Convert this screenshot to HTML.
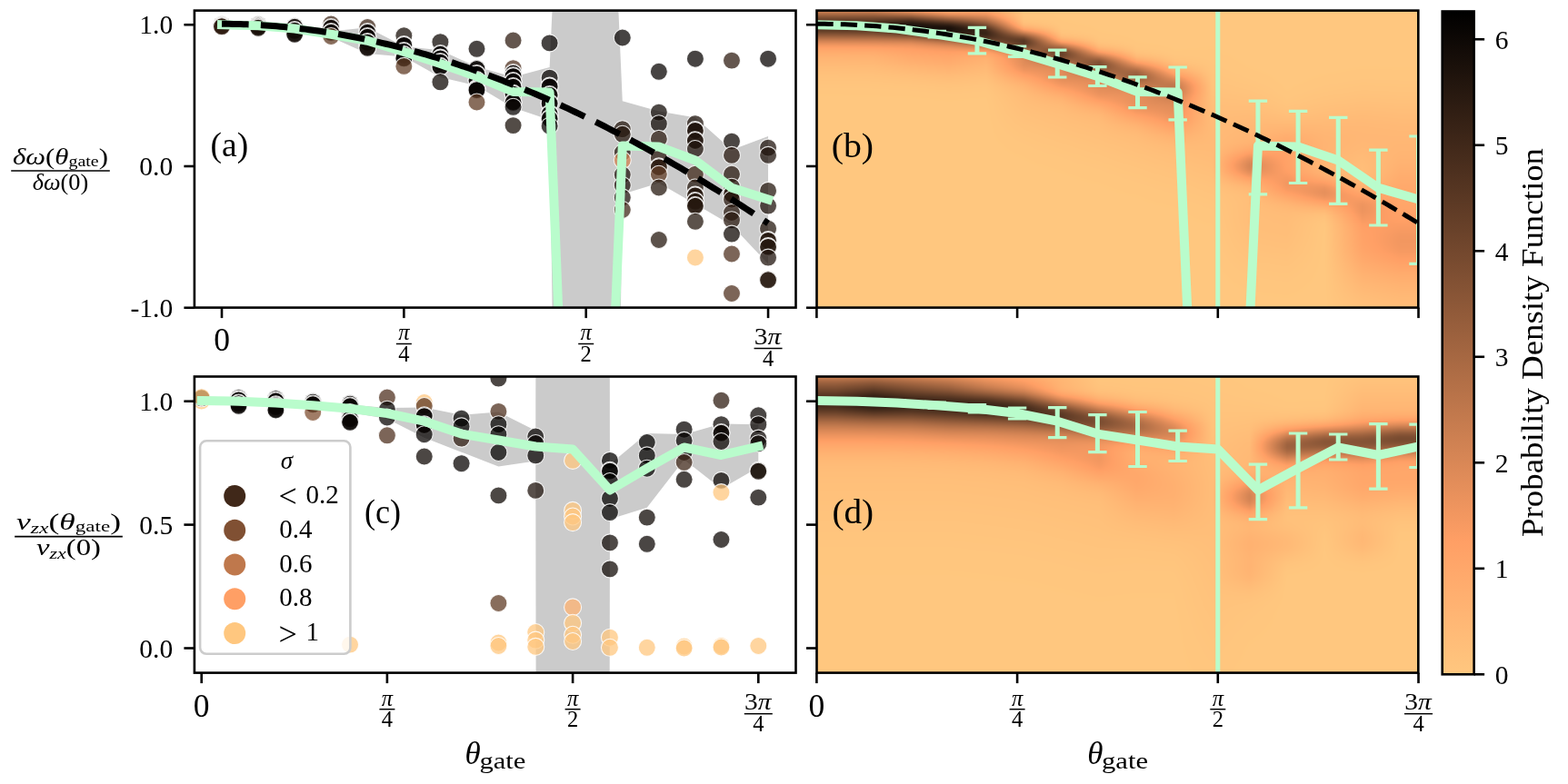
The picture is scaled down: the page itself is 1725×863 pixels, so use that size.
<!DOCTYPE html><html><head><meta charset="utf-8"><title>Figure</title><style>
html,body{margin:0;padding:0;background:#fff;width:1725px;height:863px;overflow:hidden}
#wrap{position:relative;width:1725px;height:863px}
canvas{position:absolute;background:#ffc77f}
svg{position:absolute;left:0;top:0}
text{font-family:"Liberation Serif","DejaVu Serif",serif;fill:#000}
.it{font-style:italic}
</style></head><body><div id="wrap">
<canvas id="hb" width="662" height="327" style="left:898.5px;top:11.6px;width:662px;height:327px"></canvas>
<canvas id="hd" width="662" height="326" style="left:898.5px;top:414.5px;width:662px;height:326px"></canvas>
<svg width="1725" height="863" viewBox="0 0 1725 863">
<defs>
<clipPath id="ca"><rect x="213.9" y="11.6" width="661.6" height="327"/></clipPath>
<clipPath id="cb"><rect x="898.5" y="11.6" width="661.8" height="327"/></clipPath>
<clipPath id="cc"><rect x="213.9" y="414.5" width="661.6" height="326.1"/></clipPath>
<clipPath id="cd"><rect x="898.5" y="414.5" width="661.8" height="326.1"/></clipPath>
<linearGradient id="cbg" x1="0" y1="1" x2="0" y2="0"><stop offset="0" stop-color="#ffc77f"/><stop offset="0.2" stop-color="#ff9f65"/><stop offset="1" stop-color="#000"/></linearGradient>
</defs>
<polygon clip-path="url(#ca)" fill="#cbcbcb" points="244,25.8 284.07,26.5 324.14,29 364.21,34.4 404.28,30.3 444.35,51 484.42,55.2 524.49,73.6 564.56,84.8 604.63,74 644.7,-800 684.77,111.2 724.84,122.4 764.91,129.3 804.98,165.1 845.05,150 845.05,290.4 804.98,248 764.91,224.4 724.84,201.5 684.77,213.8 644.7,3000 604.63,131.9 564.56,118.6 524.49,94.5 484.42,85 444.35,62.5 404.28,58.9 364.21,41 324.14,34 284.07,30 244,28.8"/>
<g clip-path="url(#ca)">
<circle cx="244" cy="27" r="9.5" fill="#301e13" fill-opacity="0.75" stroke="#fff" stroke-opacity="0.85" stroke-width="1.1"/>
<circle cx="244" cy="27.8" r="9.5" fill="#301e13" fill-opacity="0.75" stroke="#fff" stroke-opacity="0.85" stroke-width="1.1"/>
<circle cx="244" cy="28" r="9.5" fill="#301e13" fill-opacity="0.75" stroke="#fff" stroke-opacity="0.85" stroke-width="1.1"/>
<circle cx="244" cy="28.8" r="9.5" fill="#301e13" fill-opacity="0.75" stroke="#fff" stroke-opacity="0.85" stroke-width="1.1"/>
<circle cx="244" cy="28.5" r="9.5" fill="#301e13" fill-opacity="0.75" stroke="#fff" stroke-opacity="0.85" stroke-width="1.1"/>
<circle cx="244" cy="29.3" r="9.5" fill="#301e13" fill-opacity="0.75" stroke="#fff" stroke-opacity="0.85" stroke-width="1.1"/>
<circle cx="284.07" cy="27" r="9.5" fill="#1a100a" fill-opacity="0.75" stroke="#fff" stroke-opacity="0.85" stroke-width="1.1"/>
<circle cx="284.07" cy="27.8" r="9.5" fill="#1a100a" fill-opacity="0.75" stroke="#fff" stroke-opacity="0.85" stroke-width="1.1"/>
<circle cx="284.07" cy="28.5" r="9.5" fill="#1a100a" fill-opacity="0.75" stroke="#fff" stroke-opacity="0.85" stroke-width="1.1"/>
<circle cx="284.07" cy="29.3" r="9.5" fill="#1a100a" fill-opacity="0.75" stroke="#fff" stroke-opacity="0.85" stroke-width="1.1"/>
<circle cx="284.07" cy="30" r="9.5" fill="#1a100a" fill-opacity="0.75" stroke="#fff" stroke-opacity="0.85" stroke-width="1.1"/>
<circle cx="284.07" cy="30.8" r="9.5" fill="#1a100a" fill-opacity="0.75" stroke="#fff" stroke-opacity="0.85" stroke-width="1.1"/>
<circle cx="324.14" cy="29" r="9.5" fill="#100a06" fill-opacity="0.75" stroke="#fff" stroke-opacity="0.85" stroke-width="1.1"/>
<circle cx="324.14" cy="29.8" r="9.5" fill="#100a06" fill-opacity="0.75" stroke="#fff" stroke-opacity="0.85" stroke-width="1.1"/>
<circle cx="324.14" cy="33" r="9.5" fill="#100a06" fill-opacity="0.75" stroke="#fff" stroke-opacity="0.85" stroke-width="1.1"/>
<circle cx="324.14" cy="33.8" r="9.5" fill="#100a06" fill-opacity="0.75" stroke="#fff" stroke-opacity="0.85" stroke-width="1.1"/>
<circle cx="324.14" cy="37" r="9.5" fill="#100a06" fill-opacity="0.75" stroke="#fff" stroke-opacity="0.85" stroke-width="1.1"/>
<circle cx="324.14" cy="37.8" r="9.5" fill="#100a06" fill-opacity="0.75" stroke="#fff" stroke-opacity="0.85" stroke-width="1.1"/>
<circle cx="364.21" cy="26.5" r="9.5" fill="#402819" fill-opacity="0.75" stroke="#fff" stroke-opacity="0.85" stroke-width="1.1"/>
<circle cx="364.21" cy="30" r="9.5" fill="#100a06" fill-opacity="0.75" stroke="#fff" stroke-opacity="0.85" stroke-width="1.1"/>
<circle cx="364.21" cy="30.8" r="9.5" fill="#100a06" fill-opacity="0.75" stroke="#fff" stroke-opacity="0.85" stroke-width="1.1"/>
<circle cx="364.21" cy="35" r="9.5" fill="#100a06" fill-opacity="0.75" stroke="#fff" stroke-opacity="0.85" stroke-width="1.1"/>
<circle cx="364.21" cy="35.8" r="9.5" fill="#100a06" fill-opacity="0.75" stroke="#fff" stroke-opacity="0.85" stroke-width="1.1"/>
<circle cx="364.21" cy="40" r="9.5" fill="#603c26" fill-opacity="0.75" stroke="#fff" stroke-opacity="0.85" stroke-width="1.1"/>
<circle cx="404.28" cy="30" r="9.5" fill="#402819" fill-opacity="0.75" stroke="#fff" stroke-opacity="0.85" stroke-width="1.1"/>
<circle cx="404.28" cy="35" r="9.5" fill="#0d0805" fill-opacity="0.75" stroke="#fff" stroke-opacity="0.85" stroke-width="1.1"/>
<circle cx="404.28" cy="35.8" r="9.5" fill="#0d0805" fill-opacity="0.75" stroke="#fff" stroke-opacity="0.85" stroke-width="1.1"/>
<circle cx="404.28" cy="40" r="9.5" fill="#0d0805" fill-opacity="0.75" stroke="#fff" stroke-opacity="0.85" stroke-width="1.1"/>
<circle cx="404.28" cy="40.8" r="9.5" fill="#0d0805" fill-opacity="0.75" stroke="#fff" stroke-opacity="0.85" stroke-width="1.1"/>
<circle cx="404.28" cy="46" r="9.5" fill="#0d0805" fill-opacity="0.75" stroke="#fff" stroke-opacity="0.85" stroke-width="1.1"/>
<circle cx="404.28" cy="46.8" r="9.5" fill="#0d0805" fill-opacity="0.75" stroke="#fff" stroke-opacity="0.85" stroke-width="1.1"/>
<circle cx="404.28" cy="52" r="9.5" fill="#100a06" fill-opacity="0.75" stroke="#fff" stroke-opacity="0.85" stroke-width="1.1"/>
<circle cx="404.28" cy="52.8" r="9.5" fill="#100a06" fill-opacity="0.75" stroke="#fff" stroke-opacity="0.85" stroke-width="1.1"/>
<circle cx="444.35" cy="39.3" r="9.5" fill="#1a100a" fill-opacity="0.75" stroke="#fff" stroke-opacity="0.85" stroke-width="1.1"/>
<circle cx="444.35" cy="49.1" r="9.5" fill="#0a0604" fill-opacity="0.75" stroke="#fff" stroke-opacity="0.85" stroke-width="1.1"/>
<circle cx="444.35" cy="49.9" r="9.5" fill="#0a0604" fill-opacity="0.75" stroke="#fff" stroke-opacity="0.85" stroke-width="1.1"/>
<circle cx="444.35" cy="56" r="9.5" fill="#0a0604" fill-opacity="0.75" stroke="#fff" stroke-opacity="0.85" stroke-width="1.1"/>
<circle cx="444.35" cy="56.8" r="9.5" fill="#0a0604" fill-opacity="0.75" stroke="#fff" stroke-opacity="0.85" stroke-width="1.1"/>
<circle cx="444.35" cy="60" r="9.5" fill="#0a0604" fill-opacity="0.75" stroke="#fff" stroke-opacity="0.85" stroke-width="1.1"/>
<circle cx="444.35" cy="60.8" r="9.5" fill="#0a0604" fill-opacity="0.75" stroke="#fff" stroke-opacity="0.85" stroke-width="1.1"/>
<circle cx="444.35" cy="63.6" r="9.5" fill="#0a0604" fill-opacity="0.75" stroke="#fff" stroke-opacity="0.85" stroke-width="1.1"/>
<circle cx="444.35" cy="64.4" r="9.5" fill="#0a0604" fill-opacity="0.75" stroke="#fff" stroke-opacity="0.85" stroke-width="1.1"/>
<circle cx="444.35" cy="72.9" r="9.5" fill="#603c26" fill-opacity="0.75" stroke="#fff" stroke-opacity="0.85" stroke-width="1.1"/>
<circle cx="484.42" cy="46.2" r="9.5" fill="#100a06" fill-opacity="0.75" stroke="#fff" stroke-opacity="0.85" stroke-width="1.1"/>
<circle cx="484.42" cy="59" r="9.5" fill="#0a0604" fill-opacity="0.75" stroke="#fff" stroke-opacity="0.85" stroke-width="1.1"/>
<circle cx="484.42" cy="59.8" r="9.5" fill="#0a0604" fill-opacity="0.75" stroke="#fff" stroke-opacity="0.85" stroke-width="1.1"/>
<circle cx="484.42" cy="63.6" r="9.5" fill="#0a0604" fill-opacity="0.75" stroke="#fff" stroke-opacity="0.85" stroke-width="1.1"/>
<circle cx="484.42" cy="64.4" r="9.5" fill="#0a0604" fill-opacity="0.75" stroke="#fff" stroke-opacity="0.85" stroke-width="1.1"/>
<circle cx="484.42" cy="68" r="9.5" fill="#0a0604" fill-opacity="0.75" stroke="#fff" stroke-opacity="0.85" stroke-width="1.1"/>
<circle cx="484.42" cy="68.8" r="9.5" fill="#0a0604" fill-opacity="0.75" stroke="#fff" stroke-opacity="0.85" stroke-width="1.1"/>
<circle cx="484.42" cy="72.9" r="9.5" fill="#0a0604" fill-opacity="0.75" stroke="#fff" stroke-opacity="0.85" stroke-width="1.1"/>
<circle cx="484.42" cy="73.7" r="9.5" fill="#0a0604" fill-opacity="0.75" stroke="#fff" stroke-opacity="0.85" stroke-width="1.1"/>
<circle cx="484.42" cy="90.3" r="9.5" fill="#100a06" fill-opacity="0.75" stroke="#fff" stroke-opacity="0.85" stroke-width="1.1"/>
<circle cx="524.49" cy="53.8" r="9.5" fill="#0d0805" fill-opacity="0.75" stroke="#fff" stroke-opacity="0.85" stroke-width="1.1"/>
<circle cx="524.49" cy="75.2" r="9.5" fill="#0a0604" fill-opacity="0.75" stroke="#fff" stroke-opacity="0.85" stroke-width="1.1"/>
<circle cx="524.49" cy="76" r="9.5" fill="#0a0604" fill-opacity="0.75" stroke="#fff" stroke-opacity="0.85" stroke-width="1.1"/>
<circle cx="524.49" cy="81" r="9.5" fill="#0a0604" fill-opacity="0.75" stroke="#fff" stroke-opacity="0.85" stroke-width="1.1"/>
<circle cx="524.49" cy="81.8" r="9.5" fill="#0a0604" fill-opacity="0.75" stroke="#fff" stroke-opacity="0.85" stroke-width="1.1"/>
<circle cx="524.49" cy="88" r="9.5" fill="#0a0604" fill-opacity="0.75" stroke="#fff" stroke-opacity="0.85" stroke-width="1.1"/>
<circle cx="524.49" cy="88.8" r="9.5" fill="#0a0604" fill-opacity="0.75" stroke="#fff" stroke-opacity="0.85" stroke-width="1.1"/>
<circle cx="524.49" cy="97" r="9.5" fill="#0a0604" fill-opacity="0.75" stroke="#fff" stroke-opacity="0.85" stroke-width="1.1"/>
<circle cx="524.49" cy="97.8" r="9.5" fill="#0a0604" fill-opacity="0.75" stroke="#fff" stroke-opacity="0.85" stroke-width="1.1"/>
<circle cx="524.49" cy="98.4" r="9.5" fill="#0a0604" fill-opacity="0.75" stroke="#fff" stroke-opacity="0.85" stroke-width="1.1"/>
<circle cx="524.49" cy="99.2" r="9.5" fill="#0a0604" fill-opacity="0.75" stroke="#fff" stroke-opacity="0.85" stroke-width="1.1"/>
<circle cx="524.49" cy="112.5" r="9.5" fill="#603c26" fill-opacity="0.75" stroke="#fff" stroke-opacity="0.85" stroke-width="1.1"/>
<circle cx="564.56" cy="44.5" r="9.5" fill="#301e13" fill-opacity="0.75" stroke="#fff" stroke-opacity="0.85" stroke-width="1.1"/>
<circle cx="564.56" cy="75.2" r="9.5" fill="#503220" fill-opacity="0.75" stroke="#fff" stroke-opacity="0.85" stroke-width="1.1"/>
<circle cx="564.56" cy="80" r="9.5" fill="#0a0604" fill-opacity="0.75" stroke="#fff" stroke-opacity="0.85" stroke-width="1.1"/>
<circle cx="564.56" cy="80.8" r="9.5" fill="#0a0604" fill-opacity="0.75" stroke="#fff" stroke-opacity="0.85" stroke-width="1.1"/>
<circle cx="564.56" cy="83.3" r="9.5" fill="#0a0604" fill-opacity="0.75" stroke="#fff" stroke-opacity="0.85" stroke-width="1.1"/>
<circle cx="564.56" cy="84.1" r="9.5" fill="#0a0604" fill-opacity="0.75" stroke="#fff" stroke-opacity="0.85" stroke-width="1.1"/>
<circle cx="564.56" cy="89" r="9.5" fill="#0a0604" fill-opacity="0.75" stroke="#fff" stroke-opacity="0.85" stroke-width="1.1"/>
<circle cx="564.56" cy="89.8" r="9.5" fill="#0a0604" fill-opacity="0.75" stroke="#fff" stroke-opacity="0.85" stroke-width="1.1"/>
<circle cx="564.56" cy="95" r="9.5" fill="#0a0604" fill-opacity="0.75" stroke="#fff" stroke-opacity="0.85" stroke-width="1.1"/>
<circle cx="564.56" cy="95.8" r="9.5" fill="#0a0604" fill-opacity="0.75" stroke="#fff" stroke-opacity="0.85" stroke-width="1.1"/>
<circle cx="564.56" cy="102.8" r="9.5" fill="#0a0604" fill-opacity="0.75" stroke="#fff" stroke-opacity="0.85" stroke-width="1.1"/>
<circle cx="564.56" cy="103.6" r="9.5" fill="#0a0604" fill-opacity="0.75" stroke="#fff" stroke-opacity="0.85" stroke-width="1.1"/>
<circle cx="564.56" cy="112" r="9.5" fill="#0a0604" fill-opacity="0.75" stroke="#fff" stroke-opacity="0.85" stroke-width="1.1"/>
<circle cx="564.56" cy="112.8" r="9.5" fill="#0a0604" fill-opacity="0.75" stroke="#fff" stroke-opacity="0.85" stroke-width="1.1"/>
<circle cx="564.56" cy="117.8" r="9.5" fill="#0a0604" fill-opacity="0.75" stroke="#fff" stroke-opacity="0.85" stroke-width="1.1"/>
<circle cx="564.56" cy="138.1" r="9.5" fill="#1a100a" fill-opacity="0.75" stroke="#fff" stroke-opacity="0.85" stroke-width="1.1"/>
<circle cx="604.63" cy="47.4" r="9.5" fill="#0a0604" fill-opacity="0.75" stroke="#fff" stroke-opacity="0.85" stroke-width="1.1"/>
<circle cx="604.63" cy="85.7" r="9.5" fill="#0a0604" fill-opacity="0.75" stroke="#fff" stroke-opacity="0.85" stroke-width="1.1"/>
<circle cx="604.63" cy="94.6" r="9.5" fill="#0a0604" fill-opacity="0.75" stroke="#fff" stroke-opacity="0.85" stroke-width="1.1"/>
<circle cx="604.63" cy="95.4" r="9.5" fill="#0a0604" fill-opacity="0.75" stroke="#fff" stroke-opacity="0.85" stroke-width="1.1"/>
<circle cx="604.63" cy="104" r="9.5" fill="#0a0604" fill-opacity="0.75" stroke="#fff" stroke-opacity="0.85" stroke-width="1.1"/>
<circle cx="604.63" cy="104.8" r="9.5" fill="#0a0604" fill-opacity="0.75" stroke="#fff" stroke-opacity="0.85" stroke-width="1.1"/>
<circle cx="604.63" cy="113.2" r="9.5" fill="#0a0604" fill-opacity="0.75" stroke="#fff" stroke-opacity="0.85" stroke-width="1.1"/>
<circle cx="604.63" cy="114" r="9.5" fill="#0a0604" fill-opacity="0.75" stroke="#fff" stroke-opacity="0.85" stroke-width="1.1"/>
<circle cx="604.63" cy="124.8" r="9.5" fill="#0a0604" fill-opacity="0.75" stroke="#fff" stroke-opacity="0.85" stroke-width="1.1"/>
<circle cx="604.63" cy="125.6" r="9.5" fill="#0a0604" fill-opacity="0.75" stroke="#fff" stroke-opacity="0.85" stroke-width="1.1"/>
<circle cx="604.63" cy="130" r="9.5" fill="#0a0604" fill-opacity="0.75" stroke="#fff" stroke-opacity="0.85" stroke-width="1.1"/>
<circle cx="604.63" cy="130.8" r="9.5" fill="#0a0604" fill-opacity="0.75" stroke="#fff" stroke-opacity="0.85" stroke-width="1.1"/>
<circle cx="604.63" cy="138.7" r="9.5" fill="#0a0604" fill-opacity="0.75" stroke="#fff" stroke-opacity="0.85" stroke-width="1.1"/>
<circle cx="684.77" cy="41.5" r="9.5" fill="#0a0604" fill-opacity="0.75" stroke="#fff" stroke-opacity="0.85" stroke-width="1.1"/>
<circle cx="684.77" cy="142.2" r="9.5" fill="#26180f" fill-opacity="0.75" stroke="#fff" stroke-opacity="0.85" stroke-width="1.1"/>
<circle cx="684.77" cy="147.8" r="9.5" fill="#26180f" fill-opacity="0.75" stroke="#fff" stroke-opacity="0.85" stroke-width="1.1"/>
<circle cx="684.77" cy="168" r="9.5" fill="#26180f" fill-opacity="0.75" stroke="#fff" stroke-opacity="0.85" stroke-width="1.1"/>
<circle cx="684.77" cy="176.3" r="9.5" fill="#cf8152" fill-opacity="0.75" stroke="#fff" stroke-opacity="0.85" stroke-width="1.1"/>
<circle cx="684.77" cy="192.3" r="9.5" fill="#20140d" fill-opacity="0.75" stroke="#fff" stroke-opacity="0.85" stroke-width="1.1"/>
<circle cx="684.77" cy="204" r="9.5" fill="#20140d" fill-opacity="0.75" stroke="#fff" stroke-opacity="0.85" stroke-width="1.1"/>
<circle cx="684.77" cy="217.4" r="9.5" fill="#20140d" fill-opacity="0.75" stroke="#fff" stroke-opacity="0.85" stroke-width="1.1"/>
<circle cx="684.77" cy="231" r="9.5" fill="#402819" fill-opacity="0.75" stroke="#fff" stroke-opacity="0.85" stroke-width="1.1"/>
<circle cx="724.84" cy="78.8" r="9.5" fill="#0a0604" fill-opacity="0.75" stroke="#fff" stroke-opacity="0.85" stroke-width="1.1"/>
<circle cx="724.84" cy="123.6" r="9.5" fill="#130c08" fill-opacity="0.75" stroke="#fff" stroke-opacity="0.85" stroke-width="1.1"/>
<circle cx="724.84" cy="136.2" r="9.5" fill="#130c08" fill-opacity="0.75" stroke="#fff" stroke-opacity="0.85" stroke-width="1.1"/>
<circle cx="724.84" cy="152.9" r="9.5" fill="#2d1c12" fill-opacity="0.75" stroke="#fff" stroke-opacity="0.85" stroke-width="1.1"/>
<circle cx="724.84" cy="173.7" r="9.5" fill="#2d1c12" fill-opacity="0.75" stroke="#fff" stroke-opacity="0.85" stroke-width="1.1"/>
<circle cx="724.84" cy="183.4" r="9.5" fill="#2d1c12" fill-opacity="0.75" stroke="#fff" stroke-opacity="0.85" stroke-width="1.1"/>
<circle cx="724.84" cy="184.2" r="9.5" fill="#2d1c12" fill-opacity="0.75" stroke="#fff" stroke-opacity="0.85" stroke-width="1.1"/>
<circle cx="724.84" cy="191.8" r="9.5" fill="#603c26" fill-opacity="0.75" stroke="#fff" stroke-opacity="0.85" stroke-width="1.1"/>
<circle cx="724.84" cy="206.5" r="9.5" fill="#26180f" fill-opacity="0.75" stroke="#fff" stroke-opacity="0.85" stroke-width="1.1"/>
<circle cx="724.84" cy="264" r="9.5" fill="#26180f" fill-opacity="0.75" stroke="#fff" stroke-opacity="0.85" stroke-width="1.1"/>
<circle cx="764.91" cy="64.7" r="9.5" fill="#0a0604" fill-opacity="0.75" stroke="#fff" stroke-opacity="0.85" stroke-width="1.1"/>
<circle cx="764.91" cy="136.2" r="9.5" fill="#20140d" fill-opacity="0.75" stroke="#fff" stroke-opacity="0.85" stroke-width="1.1"/>
<circle cx="764.91" cy="143.1" r="9.5" fill="#20140d" fill-opacity="0.75" stroke="#fff" stroke-opacity="0.85" stroke-width="1.1"/>
<circle cx="764.91" cy="143.9" r="9.5" fill="#20140d" fill-opacity="0.75" stroke="#fff" stroke-opacity="0.85" stroke-width="1.1"/>
<circle cx="764.91" cy="154.2" r="9.5" fill="#20140d" fill-opacity="0.75" stroke="#fff" stroke-opacity="0.85" stroke-width="1.1"/>
<circle cx="764.91" cy="155" r="9.5" fill="#20140d" fill-opacity="0.75" stroke="#fff" stroke-opacity="0.85" stroke-width="1.1"/>
<circle cx="764.91" cy="164" r="9.5" fill="#20140d" fill-opacity="0.75" stroke="#fff" stroke-opacity="0.85" stroke-width="1.1"/>
<circle cx="764.91" cy="191.8" r="9.5" fill="#402819" fill-opacity="0.75" stroke="#fff" stroke-opacity="0.85" stroke-width="1.1"/>
<circle cx="764.91" cy="206.5" r="9.5" fill="#26180f" fill-opacity="0.75" stroke="#fff" stroke-opacity="0.85" stroke-width="1.1"/>
<circle cx="764.91" cy="214.6" r="9.5" fill="#26180f" fill-opacity="0.75" stroke="#fff" stroke-opacity="0.85" stroke-width="1.1"/>
<circle cx="764.91" cy="215.4" r="9.5" fill="#26180f" fill-opacity="0.75" stroke="#fff" stroke-opacity="0.85" stroke-width="1.1"/>
<circle cx="764.91" cy="221" r="9.5" fill="#26180f" fill-opacity="0.75" stroke="#fff" stroke-opacity="0.85" stroke-width="1.1"/>
<circle cx="764.91" cy="221.8" r="9.5" fill="#26180f" fill-opacity="0.75" stroke="#fff" stroke-opacity="0.85" stroke-width="1.1"/>
<circle cx="764.91" cy="226" r="9.5" fill="#26180f" fill-opacity="0.75" stroke="#fff" stroke-opacity="0.85" stroke-width="1.1"/>
<circle cx="764.91" cy="226.8" r="9.5" fill="#26180f" fill-opacity="0.75" stroke="#fff" stroke-opacity="0.85" stroke-width="1.1"/>
<circle cx="764.91" cy="243.8" r="9.5" fill="#26180f" fill-opacity="0.75" stroke="#fff" stroke-opacity="0.85" stroke-width="1.1"/>
<circle cx="764.91" cy="283.5" r="9.5" fill="#ffc77f" fill-opacity="0.75" stroke="#fff" stroke-opacity="0.85" stroke-width="1.1"/>
<circle cx="804.98" cy="66.6" r="9.5" fill="#301e13" fill-opacity="0.75" stroke="#fff" stroke-opacity="0.85" stroke-width="1.1"/>
<circle cx="804.98" cy="155.6" r="9.5" fill="#100a06" fill-opacity="0.75" stroke="#fff" stroke-opacity="0.85" stroke-width="1.1"/>
<circle cx="804.98" cy="170.9" r="9.5" fill="#291a10" fill-opacity="0.75" stroke="#fff" stroke-opacity="0.85" stroke-width="1.1"/>
<circle cx="804.98" cy="191.8" r="9.5" fill="#291a10" fill-opacity="0.75" stroke="#fff" stroke-opacity="0.85" stroke-width="1.1"/>
<circle cx="804.98" cy="205.7" r="9.5" fill="#291a10" fill-opacity="0.75" stroke="#fff" stroke-opacity="0.85" stroke-width="1.1"/>
<circle cx="804.98" cy="213" r="9.5" fill="#291a10" fill-opacity="0.75" stroke="#fff" stroke-opacity="0.85" stroke-width="1.1"/>
<circle cx="804.98" cy="213.8" r="9.5" fill="#291a10" fill-opacity="0.75" stroke="#fff" stroke-opacity="0.85" stroke-width="1.1"/>
<circle cx="804.98" cy="219.5" r="9.5" fill="#291a10" fill-opacity="0.75" stroke="#fff" stroke-opacity="0.85" stroke-width="1.1"/>
<circle cx="804.98" cy="234" r="9.5" fill="#291a10" fill-opacity="0.75" stroke="#fff" stroke-opacity="0.85" stroke-width="1.1"/>
<circle cx="804.98" cy="242.2" r="9.5" fill="#291a10" fill-opacity="0.75" stroke="#fff" stroke-opacity="0.85" stroke-width="1.1"/>
<circle cx="804.98" cy="257.6" r="9.5" fill="#100a06" fill-opacity="0.75" stroke="#fff" stroke-opacity="0.85" stroke-width="1.1"/>
<circle cx="804.98" cy="279.5" r="9.5" fill="#503220" fill-opacity="0.75" stroke="#fff" stroke-opacity="0.85" stroke-width="1.1"/>
<circle cx="804.98" cy="323" r="9.5" fill="#503220" fill-opacity="0.75" stroke="#fff" stroke-opacity="0.85" stroke-width="1.1"/>
<circle cx="845.05" cy="64.7" r="9.5" fill="#0a0604" fill-opacity="0.75" stroke="#fff" stroke-opacity="0.85" stroke-width="1.1"/>
<circle cx="845.05" cy="162.6" r="9.5" fill="#20140d" fill-opacity="0.75" stroke="#fff" stroke-opacity="0.85" stroke-width="1.1"/>
<circle cx="845.05" cy="170.9" r="9.5" fill="#20140d" fill-opacity="0.75" stroke="#fff" stroke-opacity="0.85" stroke-width="1.1"/>
<circle cx="845.05" cy="209.9" r="9.5" fill="#26180f" fill-opacity="0.75" stroke="#fff" stroke-opacity="0.85" stroke-width="1.1"/>
<circle cx="845.05" cy="226.6" r="9.5" fill="#20140d" fill-opacity="0.75" stroke="#fff" stroke-opacity="0.85" stroke-width="1.1"/>
<circle cx="845.05" cy="251.6" r="9.5" fill="#26180f" fill-opacity="0.75" stroke="#fff" stroke-opacity="0.85" stroke-width="1.1"/>
<circle cx="845.05" cy="264.1" r="9.5" fill="#26180f" fill-opacity="0.75" stroke="#fff" stroke-opacity="0.85" stroke-width="1.1"/>
<circle cx="845.05" cy="264.9" r="9.5" fill="#26180f" fill-opacity="0.75" stroke="#fff" stroke-opacity="0.85" stroke-width="1.1"/>
<circle cx="845.05" cy="271.1" r="9.5" fill="#26180f" fill-opacity="0.75" stroke="#fff" stroke-opacity="0.85" stroke-width="1.1"/>
<circle cx="845.05" cy="271.9" r="9.5" fill="#26180f" fill-opacity="0.75" stroke="#fff" stroke-opacity="0.85" stroke-width="1.1"/>
<circle cx="845.05" cy="283.6" r="9.5" fill="#20140d" fill-opacity="0.75" stroke="#fff" stroke-opacity="0.85" stroke-width="1.1"/>
<circle cx="845.05" cy="307.5" r="9.5" fill="#26180f" fill-opacity="0.75" stroke="#fff" stroke-opacity="0.85" stroke-width="1.1"/>
<circle cx="845.05" cy="308.3" r="9.5" fill="#26180f" fill-opacity="0.75" stroke="#fff" stroke-opacity="0.85" stroke-width="1.1"/>
</g>
<polyline clip-path="url(#ca)" fill="none" stroke="#b9fccc" stroke-width="10" stroke-linejoin="round" stroke-linecap="square" points="244,27.2 284.07,28.2 324.14,31.5 364.21,37.7 404.28,44.7 444.35,56.9 484.42,70.1 524.49,84.1 564.56,101 604.63,101.5 644.7,1100 684.77,160.5 724.84,161.5 764.91,176.5 804.98,206.8 845.05,219.5"/>
<polyline clip-path="url(#ca)" fill="none" stroke="#000" stroke-width="7.0" stroke-dasharray="29.6 13.3" points="244,26.3 248.01,26.31 252.01,26.35 256.02,26.4 260.03,26.48 264.04,26.58 268.04,26.7 272.05,26.85 276.06,27.02 280.06,27.21 284.07,27.42 288.08,27.65 292.08,27.91 296.09,28.19 300.1,28.49 304.11,28.81 308.11,29.15 312.12,29.52 316.13,29.9 320.13,30.31 324.14,30.74 328.15,31.19 332.15,31.66 336.16,32.15 340.17,32.67 344.18,33.2 348.18,33.76 352.19,34.33 356.2,34.93 360.2,35.55 364.21,36.19 368.22,36.85 372.22,37.53 376.23,38.24 380.24,38.96 384.25,39.7 388.25,40.46 392.26,41.25 396.27,42.05 400.27,42.88 404.28,43.72 408.29,44.59 412.29,45.47 416.3,46.37 420.31,47.3 424.31,48.24 428.32,49.21 432.33,50.19 436.34,51.2 440.34,52.22 444.35,53.26 448.36,54.32 452.36,55.41 456.37,56.51 460.38,57.63 464.38,58.77 468.39,59.93 472.4,61.11 476.41,62.3 480.41,63.52 484.42,64.76 488.43,66.01 492.43,67.28 496.44,68.57 500.45,69.88 504.45,71.21 508.46,72.56 512.47,73.93 516.48,75.31 520.48,76.72 524.49,78.14 528.5,79.58 532.5,81.03 536.51,82.51 540.52,84 544.52,85.52 548.53,87.05 552.54,88.6 556.55,90.16 560.55,91.74 564.56,93.35 568.57,94.97 572.57,96.6 576.58,98.26 580.59,99.93 584.6,101.62 588.6,103.32 592.61,105.05 596.62,106.79 600.62,108.55 604.63,110.32 608.64,112.11 612.64,113.92 616.65,115.75 620.66,117.59 624.66,119.45 628.67,121.33 632.68,123.22 636.69,125.13 640.69,127.06 644.7,129 648.71,130.96 652.71,132.93 656.72,134.93 660.73,136.93 664.74,138.96 668.74,141 672.75,143.06 676.76,145.13 680.76,147.22 684.77,149.32 688.78,151.44 692.78,153.58 696.79,155.73 700.8,157.89 704.81,160.08 708.81,162.28 712.82,164.49 716.83,166.72 720.83,168.96 724.84,171.22 728.85,173.5 732.85,175.79 736.86,178.09 740.87,180.41 744.88,182.75 748.88,185.09 752.89,187.46 756.9,189.84 760.9,192.23 764.91,194.64 768.92,197.06 772.92,199.5 776.93,201.95 780.94,204.42 784.95,206.9 788.95,209.4 792.96,211.9 796.97,214.43 800.97,216.97 804.98,219.52 808.99,222.08 812.99,224.66 817,227.25 821.01,229.86 825.01,232.48 829.02,235.12 833.03,237.76 837.04,240.42 841.04,243.1 845.05,245.79"/>
<polyline clip-path="url(#cb)" fill="none" stroke="#b9fccc" stroke-width="10" stroke-linejoin="round" stroke-linecap="square" points="898.4,27.2 942.54,28.2 986.68,31.5 1030.82,37.7 1074.96,44.7 1119.1,56.9 1163.24,70.1 1207.38,84.1 1251.52,101 1295.66,101.5 1339.8,1100 1383.94,160.5 1428.08,161.5 1472.22,176.5 1516.36,206.8 1560.5,219.5"/>
<g clip-path="url(#cb)" stroke="#b9fccc" fill="none">
<line x1="898.4" y1="25.8" x2="898.4" y2="28.8" stroke-width="5"/>
<line x1="888.2" y1="25.8" x2="908.6" y2="25.8" stroke-width="3.2"/>
<line x1="888.2" y1="28.8" x2="908.6" y2="28.8" stroke-width="3.2"/>
<line x1="942.54" y1="26.5" x2="942.54" y2="30" stroke-width="5"/>
<line x1="932.34" y1="26.5" x2="952.74" y2="26.5" stroke-width="3.2"/>
<line x1="932.34" y1="30" x2="952.74" y2="30" stroke-width="3.2"/>
<line x1="986.68" y1="29" x2="986.68" y2="34" stroke-width="5"/>
<line x1="976.48" y1="29" x2="996.88" y2="29" stroke-width="3.2"/>
<line x1="976.48" y1="34" x2="996.88" y2="34" stroke-width="3.2"/>
<line x1="1030.82" y1="34.4" x2="1030.82" y2="41" stroke-width="5"/>
<line x1="1020.62" y1="34.4" x2="1041.02" y2="34.4" stroke-width="3.2"/>
<line x1="1020.62" y1="41" x2="1041.02" y2="41" stroke-width="3.2"/>
<line x1="1074.96" y1="30.3" x2="1074.96" y2="58.9" stroke-width="5"/>
<line x1="1064.76" y1="30.3" x2="1085.16" y2="30.3" stroke-width="3.2"/>
<line x1="1064.76" y1="58.9" x2="1085.16" y2="58.9" stroke-width="3.2"/>
<line x1="1119.1" y1="51" x2="1119.1" y2="62.5" stroke-width="5"/>
<line x1="1108.9" y1="51" x2="1129.3" y2="51" stroke-width="3.2"/>
<line x1="1108.9" y1="62.5" x2="1129.3" y2="62.5" stroke-width="3.2"/>
<line x1="1163.24" y1="55.2" x2="1163.24" y2="85" stroke-width="5"/>
<line x1="1153.04" y1="55.2" x2="1173.44" y2="55.2" stroke-width="3.2"/>
<line x1="1153.04" y1="85" x2="1173.44" y2="85" stroke-width="3.2"/>
<line x1="1207.38" y1="73.6" x2="1207.38" y2="94.5" stroke-width="5"/>
<line x1="1197.18" y1="73.6" x2="1217.58" y2="73.6" stroke-width="3.2"/>
<line x1="1197.18" y1="94.5" x2="1217.58" y2="94.5" stroke-width="3.2"/>
<line x1="1251.52" y1="84.8" x2="1251.52" y2="118.6" stroke-width="5"/>
<line x1="1241.32" y1="84.8" x2="1261.72" y2="84.8" stroke-width="3.2"/>
<line x1="1241.32" y1="118.6" x2="1261.72" y2="118.6" stroke-width="3.2"/>
<line x1="1295.66" y1="74" x2="1295.66" y2="131.9" stroke-width="5"/>
<line x1="1285.46" y1="74" x2="1305.86" y2="74" stroke-width="3.2"/>
<line x1="1285.46" y1="131.9" x2="1305.86" y2="131.9" stroke-width="3.2"/>
<line x1="1339.8" y1="-800" x2="1339.8" y2="3000" stroke-width="5"/>
<line x1="1329.6" y1="-800" x2="1350" y2="-800" stroke-width="3.2"/>
<line x1="1329.6" y1="3000" x2="1350" y2="3000" stroke-width="3.2"/>
<line x1="1383.94" y1="111.2" x2="1383.94" y2="213.8" stroke-width="5"/>
<line x1="1373.74" y1="111.2" x2="1394.14" y2="111.2" stroke-width="3.2"/>
<line x1="1373.74" y1="213.8" x2="1394.14" y2="213.8" stroke-width="3.2"/>
<line x1="1428.08" y1="122.4" x2="1428.08" y2="201.5" stroke-width="5"/>
<line x1="1417.88" y1="122.4" x2="1438.28" y2="122.4" stroke-width="3.2"/>
<line x1="1417.88" y1="201.5" x2="1438.28" y2="201.5" stroke-width="3.2"/>
<line x1="1472.22" y1="129.3" x2="1472.22" y2="224.4" stroke-width="5"/>
<line x1="1462.02" y1="129.3" x2="1482.42" y2="129.3" stroke-width="3.2"/>
<line x1="1462.02" y1="224.4" x2="1482.42" y2="224.4" stroke-width="3.2"/>
<line x1="1516.36" y1="165.1" x2="1516.36" y2="248" stroke-width="5"/>
<line x1="1506.16" y1="165.1" x2="1526.56" y2="165.1" stroke-width="3.2"/>
<line x1="1506.16" y1="248" x2="1526.56" y2="248" stroke-width="3.2"/>
<line x1="1560.5" y1="150" x2="1560.5" y2="290.4" stroke-width="5"/>
<line x1="1550.3" y1="150" x2="1570.7" y2="150" stroke-width="3.2"/>
<line x1="1550.3" y1="290.4" x2="1570.7" y2="290.4" stroke-width="3.2"/>
</g>
<polyline clip-path="url(#cb)" fill="none" stroke="#000" stroke-width="5" stroke-dasharray="18.3 8.1" points="898.4,26.3 902.81,26.31 907.23,26.35 911.64,26.4 916.06,26.48 920.47,26.58 924.88,26.7 929.3,26.85 933.71,27.02 938.13,27.21 942.54,27.42 946.95,27.65 951.37,27.91 955.78,28.19 960.2,28.49 964.61,28.81 969.02,29.15 973.44,29.52 977.85,29.9 982.27,30.31 986.68,30.74 991.09,31.19 995.51,31.66 999.92,32.15 1004.34,32.67 1008.75,33.2 1013.16,33.76 1017.58,34.33 1021.99,34.93 1026.41,35.55 1030.82,36.19 1035.23,36.85 1039.65,37.53 1044.06,38.24 1048.48,38.96 1052.89,39.7 1057.3,40.46 1061.72,41.25 1066.13,42.05 1070.55,42.88 1074.96,43.72 1079.37,44.59 1083.79,45.47 1088.2,46.37 1092.62,47.3 1097.03,48.24 1101.44,49.21 1105.86,50.19 1110.27,51.2 1114.69,52.22 1119.1,53.26 1123.51,54.32 1127.93,55.41 1132.34,56.51 1136.76,57.63 1141.17,58.77 1145.58,59.93 1150,61.11 1154.41,62.3 1158.83,63.52 1163.24,64.76 1167.65,66.01 1172.07,67.28 1176.48,68.57 1180.9,69.88 1185.31,71.21 1189.72,72.56 1194.14,73.93 1198.55,75.31 1202.97,76.72 1207.38,78.14 1211.79,79.58 1216.21,81.03 1220.62,82.51 1225.04,84 1229.45,85.52 1233.86,87.05 1238.28,88.6 1242.69,90.16 1247.11,91.74 1251.52,93.35 1255.93,94.97 1260.35,96.6 1264.76,98.26 1269.18,99.93 1273.59,101.62 1278,103.32 1282.42,105.05 1286.83,106.79 1291.25,108.55 1295.66,110.32 1300.07,112.11 1304.49,113.92 1308.9,115.75 1313.32,117.59 1317.73,119.45 1322.14,121.33 1326.56,123.22 1330.97,125.13 1335.39,127.06 1339.8,129 1344.21,130.96 1348.63,132.93 1353.04,134.93 1357.46,136.93 1361.87,138.96 1366.28,141 1370.7,143.06 1375.11,145.13 1379.53,147.22 1383.94,149.32 1388.35,151.44 1392.77,153.58 1397.18,155.73 1401.6,157.89 1406.01,160.08 1410.42,162.28 1414.84,164.49 1419.25,166.72 1423.67,168.96 1428.08,171.22 1432.49,173.5 1436.91,175.79 1441.32,178.09 1445.74,180.41 1450.15,182.75 1454.56,185.09 1458.98,187.46 1463.39,189.84 1467.81,192.23 1472.22,194.64 1476.63,197.06 1481.05,199.5 1485.46,201.95 1489.88,204.42 1494.29,206.9 1498.7,209.4 1503.12,211.9 1507.53,214.43 1511.95,216.97 1516.36,219.52 1520.77,222.08 1525.19,224.66 1529.6,227.25 1534.02,229.86 1538.43,232.48 1542.84,235.12 1547.26,237.76 1551.67,240.42 1556.09,243.1 1560.5,245.79"/>
<polygon clip-path="url(#cc)" fill="#cbcbcb" points="221.7,438.5 262.54,439 303.38,440.5 344.22,443 385.06,445.5 425.9,449 466.74,448.6 507.58,456.7 548.42,453.5 589.26,474.1 630.1,-30000 670.94,511.1 711.78,477 752.62,478 793.46,466.6 834.3,467.2 834.3,514.5 793.46,538.1 752.62,506 711.78,558.8 670.94,571.6 630.1,30000 589.26,507.5 548.42,513.5 507.58,497.7 466.74,481.7 425.9,461 385.06,454 344.22,449.5 303.38,446.5 262.54,444.5 221.7,443.5"/>
<g clip-path="url(#cc)">
<circle cx="221.7" cy="441.5" r="9.5" fill="#ffc77f" fill-opacity="0.75" stroke="#fff" stroke-opacity="0.85" stroke-width="1.1"/>
<circle cx="221.7" cy="437.5" r="9.5" fill="#0a0604" fill-opacity="0.75" stroke="#fff" stroke-opacity="0.85" stroke-width="1.1"/>
<circle cx="221.7" cy="438.3" r="9.5" fill="#0a0604" fill-opacity="0.75" stroke="#fff" stroke-opacity="0.85" stroke-width="1.1"/>
<circle cx="221.7" cy="437.2" r="9.5" fill="#ffc77f" fill-opacity="0.75" stroke="#fff" stroke-opacity="0.85" stroke-width="1.1"/>
<circle cx="262.54" cy="437.5" r="9.5" fill="#0a0604" fill-opacity="0.75" stroke="#fff" stroke-opacity="0.85" stroke-width="1.1"/>
<circle cx="262.54" cy="438.3" r="9.5" fill="#0a0604" fill-opacity="0.75" stroke="#fff" stroke-opacity="0.85" stroke-width="1.1"/>
<circle cx="262.54" cy="439.6" r="9.5" fill="#0a0604" fill-opacity="0.75" stroke="#fff" stroke-opacity="0.85" stroke-width="1.1"/>
<circle cx="262.54" cy="440.4" r="9.5" fill="#0a0604" fill-opacity="0.75" stroke="#fff" stroke-opacity="0.85" stroke-width="1.1"/>
<circle cx="262.54" cy="443.5" r="9.5" fill="#0a0604" fill-opacity="0.75" stroke="#fff" stroke-opacity="0.85" stroke-width="1.1"/>
<circle cx="262.54" cy="444.3" r="9.5" fill="#0a0604" fill-opacity="0.75" stroke="#fff" stroke-opacity="0.85" stroke-width="1.1"/>
<circle cx="262.54" cy="446" r="9.5" fill="#0a0604" fill-opacity="0.75" stroke="#fff" stroke-opacity="0.85" stroke-width="1.1"/>
<circle cx="262.54" cy="446.8" r="9.5" fill="#0a0604" fill-opacity="0.75" stroke="#fff" stroke-opacity="0.85" stroke-width="1.1"/>
<circle cx="303.38" cy="438.5" r="9.5" fill="#0a0604" fill-opacity="0.75" stroke="#fff" stroke-opacity="0.85" stroke-width="1.1"/>
<circle cx="303.38" cy="439.3" r="9.5" fill="#0a0604" fill-opacity="0.75" stroke="#fff" stroke-opacity="0.85" stroke-width="1.1"/>
<circle cx="303.38" cy="440.7" r="9.5" fill="#0a0604" fill-opacity="0.75" stroke="#fff" stroke-opacity="0.85" stroke-width="1.1"/>
<circle cx="303.38" cy="441.5" r="9.5" fill="#0a0604" fill-opacity="0.75" stroke="#fff" stroke-opacity="0.85" stroke-width="1.1"/>
<circle cx="303.38" cy="445.3" r="9.5" fill="#0a0604" fill-opacity="0.75" stroke="#fff" stroke-opacity="0.85" stroke-width="1.1"/>
<circle cx="303.38" cy="446.1" r="9.5" fill="#0a0604" fill-opacity="0.75" stroke="#fff" stroke-opacity="0.85" stroke-width="1.1"/>
<circle cx="303.38" cy="447.3" r="9.5" fill="#0a0604" fill-opacity="0.75" stroke="#fff" stroke-opacity="0.85" stroke-width="1.1"/>
<circle cx="303.38" cy="448.1" r="9.5" fill="#0a0604" fill-opacity="0.75" stroke="#fff" stroke-opacity="0.85" stroke-width="1.1"/>
<circle cx="303.38" cy="450.7" r="9.5" fill="#0a0604" fill-opacity="0.75" stroke="#fff" stroke-opacity="0.85" stroke-width="1.1"/>
<circle cx="303.38" cy="451.5" r="9.5" fill="#0a0604" fill-opacity="0.75" stroke="#fff" stroke-opacity="0.85" stroke-width="1.1"/>
<circle cx="344.22" cy="442" r="9.5" fill="#0a0604" fill-opacity="0.75" stroke="#fff" stroke-opacity="0.85" stroke-width="1.1"/>
<circle cx="344.22" cy="442.8" r="9.5" fill="#0a0604" fill-opacity="0.75" stroke="#fff" stroke-opacity="0.85" stroke-width="1.1"/>
<circle cx="344.22" cy="444.5" r="9.5" fill="#0a0604" fill-opacity="0.75" stroke="#fff" stroke-opacity="0.85" stroke-width="1.1"/>
<circle cx="344.22" cy="445.3" r="9.5" fill="#0a0604" fill-opacity="0.75" stroke="#fff" stroke-opacity="0.85" stroke-width="1.1"/>
<circle cx="344.22" cy="454" r="9.5" fill="#805033" fill-opacity="0.75" stroke="#fff" stroke-opacity="0.85" stroke-width="1.1"/>
<circle cx="385.06" cy="444" r="9.5" fill="#0a0604" fill-opacity="0.75" stroke="#fff" stroke-opacity="0.85" stroke-width="1.1"/>
<circle cx="385.06" cy="444.8" r="9.5" fill="#0a0604" fill-opacity="0.75" stroke="#fff" stroke-opacity="0.85" stroke-width="1.1"/>
<circle cx="385.06" cy="446.5" r="9.5" fill="#0a0604" fill-opacity="0.75" stroke="#fff" stroke-opacity="0.85" stroke-width="1.1"/>
<circle cx="385.06" cy="447.3" r="9.5" fill="#0a0604" fill-opacity="0.75" stroke="#fff" stroke-opacity="0.85" stroke-width="1.1"/>
<circle cx="385.06" cy="454" r="9.5" fill="#0a0604" fill-opacity="0.75" stroke="#fff" stroke-opacity="0.85" stroke-width="1.1"/>
<circle cx="385.06" cy="454.8" r="9.5" fill="#0a0604" fill-opacity="0.75" stroke="#fff" stroke-opacity="0.85" stroke-width="1.1"/>
<circle cx="385.06" cy="458" r="9.5" fill="#0a0604" fill-opacity="0.75" stroke="#fff" stroke-opacity="0.85" stroke-width="1.1"/>
<circle cx="385.06" cy="458.8" r="9.5" fill="#0a0604" fill-opacity="0.75" stroke="#fff" stroke-opacity="0.85" stroke-width="1.1"/>
<circle cx="385.06" cy="460.6" r="9.5" fill="#0a0604" fill-opacity="0.75" stroke="#fff" stroke-opacity="0.85" stroke-width="1.1"/>
<circle cx="385.06" cy="461.4" r="9.5" fill="#0a0604" fill-opacity="0.75" stroke="#fff" stroke-opacity="0.85" stroke-width="1.1"/>
<circle cx="385.06" cy="464" r="9.5" fill="#0a0604" fill-opacity="0.75" stroke="#fff" stroke-opacity="0.85" stroke-width="1.1"/>
<circle cx="385.06" cy="464.8" r="9.5" fill="#0a0604" fill-opacity="0.75" stroke="#fff" stroke-opacity="0.85" stroke-width="1.1"/>
<circle cx="385.06" cy="709.6" r="9.5" fill="#ffc77f" fill-opacity="0.75" stroke="#fff" stroke-opacity="0.85" stroke-width="1.1"/>
<circle cx="425.9" cy="437.5" r="9.5" fill="#503220" fill-opacity="0.75" stroke="#fff" stroke-opacity="0.85" stroke-width="1.1"/>
<circle cx="425.9" cy="450.7" r="9.5" fill="#0a0604" fill-opacity="0.75" stroke="#fff" stroke-opacity="0.85" stroke-width="1.1"/>
<circle cx="425.9" cy="459.5" r="9.5" fill="#0a0604" fill-opacity="0.75" stroke="#fff" stroke-opacity="0.85" stroke-width="1.1"/>
<circle cx="425.9" cy="479.3" r="9.5" fill="#503220" fill-opacity="0.75" stroke="#fff" stroke-opacity="0.85" stroke-width="1.1"/>
<circle cx="466.74" cy="443" r="9.5" fill="#ffc77f" fill-opacity="0.75" stroke="#fff" stroke-opacity="0.85" stroke-width="1.1"/>
<circle cx="466.74" cy="447" r="9.5" fill="#603c26" fill-opacity="0.75" stroke="#fff" stroke-opacity="0.85" stroke-width="1.1"/>
<circle cx="466.74" cy="457.3" r="9.5" fill="#0a0604" fill-opacity="0.75" stroke="#fff" stroke-opacity="0.85" stroke-width="1.1"/>
<circle cx="466.74" cy="458.1" r="9.5" fill="#0a0604" fill-opacity="0.75" stroke="#fff" stroke-opacity="0.85" stroke-width="1.1"/>
<circle cx="466.74" cy="467.2" r="9.5" fill="#0a0604" fill-opacity="0.75" stroke="#fff" stroke-opacity="0.85" stroke-width="1.1"/>
<circle cx="466.74" cy="468" r="9.5" fill="#0a0604" fill-opacity="0.75" stroke="#fff" stroke-opacity="0.85" stroke-width="1.1"/>
<circle cx="466.74" cy="478.2" r="9.5" fill="#0a0604" fill-opacity="0.75" stroke="#fff" stroke-opacity="0.85" stroke-width="1.1"/>
<circle cx="466.74" cy="502.5" r="9.5" fill="#100a06" fill-opacity="0.75" stroke="#fff" stroke-opacity="0.85" stroke-width="1.1"/>
<circle cx="507.58" cy="460.6" r="9.5" fill="#060403" fill-opacity="0.75" stroke="#fff" stroke-opacity="0.85" stroke-width="1.1"/>
<circle cx="507.58" cy="469.4" r="9.5" fill="#060403" fill-opacity="0.75" stroke="#fff" stroke-opacity="0.85" stroke-width="1.1"/>
<circle cx="507.58" cy="482.6" r="9.5" fill="#301e13" fill-opacity="0.75" stroke="#fff" stroke-opacity="0.85" stroke-width="1.1"/>
<circle cx="507.58" cy="510.2" r="9.5" fill="#0a0604" fill-opacity="0.75" stroke="#fff" stroke-opacity="0.85" stroke-width="1.1"/>
<circle cx="548.42" cy="416.6" r="9.5" fill="#100a06" fill-opacity="0.75" stroke="#fff" stroke-opacity="0.85" stroke-width="1.1"/>
<circle cx="548.42" cy="452.9" r="9.5" fill="#503220" fill-opacity="0.75" stroke="#fff" stroke-opacity="0.85" stroke-width="1.1"/>
<circle cx="548.42" cy="467.2" r="9.5" fill="#060403" fill-opacity="0.75" stroke="#fff" stroke-opacity="0.85" stroke-width="1.1"/>
<circle cx="548.42" cy="478.2" r="9.5" fill="#060403" fill-opacity="0.75" stroke="#fff" stroke-opacity="0.85" stroke-width="1.1"/>
<circle cx="548.42" cy="498" r="9.5" fill="#060403" fill-opacity="0.75" stroke="#fff" stroke-opacity="0.85" stroke-width="1.1"/>
<circle cx="548.42" cy="545.4" r="9.5" fill="#100a06" fill-opacity="0.75" stroke="#fff" stroke-opacity="0.85" stroke-width="1.1"/>
<circle cx="548.42" cy="664" r="9.5" fill="#603c26" fill-opacity="0.75" stroke="#fff" stroke-opacity="0.85" stroke-width="1.1"/>
<circle cx="548.42" cy="707.5" r="9.5" fill="#ffc77f" fill-opacity="0.75" stroke="#fff" stroke-opacity="0.85" stroke-width="1.1"/>
<circle cx="548.42" cy="711" r="9.5" fill="#ffc77f" fill-opacity="0.75" stroke="#fff" stroke-opacity="0.85" stroke-width="1.1"/>
<circle cx="589.26" cy="480.5" r="9.5" fill="#0a0604" fill-opacity="0.75" stroke="#fff" stroke-opacity="0.85" stroke-width="1.1"/>
<circle cx="589.26" cy="488" r="9.5" fill="#0a0604" fill-opacity="0.75" stroke="#fff" stroke-opacity="0.85" stroke-width="1.1"/>
<circle cx="589.26" cy="501.4" r="9.5" fill="#0a0604" fill-opacity="0.75" stroke="#fff" stroke-opacity="0.85" stroke-width="1.1"/>
<circle cx="589.26" cy="539.9" r="9.5" fill="#20140d" fill-opacity="0.75" stroke="#fff" stroke-opacity="0.85" stroke-width="1.1"/>
<circle cx="589.26" cy="696" r="9.5" fill="#ffc77f" fill-opacity="0.75" stroke="#fff" stroke-opacity="0.85" stroke-width="1.1"/>
<circle cx="589.26" cy="704.6" r="9.5" fill="#ffc77f" fill-opacity="0.75" stroke="#fff" stroke-opacity="0.85" stroke-width="1.1"/>
<circle cx="589.26" cy="711.9" r="9.5" fill="#ffc77f" fill-opacity="0.75" stroke="#fff" stroke-opacity="0.85" stroke-width="1.1"/>
<circle cx="630.1" cy="506.9" r="9.5" fill="#ffc77f" fill-opacity="0.75" stroke="#fff" stroke-opacity="0.85" stroke-width="1.1"/>
<circle cx="630.1" cy="561.9" r="9.5" fill="#ffc77f" fill-opacity="0.75" stroke="#fff" stroke-opacity="0.85" stroke-width="1.1"/>
<circle cx="630.1" cy="568.5" r="9.5" fill="#ffc77f" fill-opacity="0.75" stroke="#fff" stroke-opacity="0.85" stroke-width="1.1"/>
<circle cx="630.1" cy="575.1" r="9.5" fill="#ffc77f" fill-opacity="0.75" stroke="#fff" stroke-opacity="0.85" stroke-width="1.1"/>
<circle cx="630.1" cy="668.4" r="9.5" fill="#ffb372" fill-opacity="0.75" stroke="#fff" stroke-opacity="0.85" stroke-width="1.1"/>
<circle cx="630.1" cy="685.8" r="9.5" fill="#ffc77f" fill-opacity="0.75" stroke="#fff" stroke-opacity="0.85" stroke-width="1.1"/>
<circle cx="630.1" cy="698.8" r="9.5" fill="#ffc77f" fill-opacity="0.75" stroke="#fff" stroke-opacity="0.85" stroke-width="1.1"/>
<circle cx="630.1" cy="706" r="9.5" fill="#ffc77f" fill-opacity="0.75" stroke="#fff" stroke-opacity="0.85" stroke-width="1.1"/>
<circle cx="670.94" cy="506.9" r="9.5" fill="#060403" fill-opacity="0.75" stroke="#fff" stroke-opacity="0.85" stroke-width="1.1"/>
<circle cx="670.94" cy="517.9" r="9.5" fill="#060403" fill-opacity="0.75" stroke="#fff" stroke-opacity="0.85" stroke-width="1.1"/>
<circle cx="670.94" cy="518.7" r="9.5" fill="#060403" fill-opacity="0.75" stroke="#fff" stroke-opacity="0.85" stroke-width="1.1"/>
<circle cx="670.94" cy="530" r="9.5" fill="#060403" fill-opacity="0.75" stroke="#fff" stroke-opacity="0.85" stroke-width="1.1"/>
<circle cx="670.94" cy="548.7" r="9.5" fill="#060403" fill-opacity="0.75" stroke="#fff" stroke-opacity="0.85" stroke-width="1.1"/>
<circle cx="670.94" cy="564.1" r="9.5" fill="#060403" fill-opacity="0.75" stroke="#fff" stroke-opacity="0.85" stroke-width="1.1"/>
<circle cx="670.94" cy="597.4" r="9.5" fill="#130c08" fill-opacity="0.75" stroke="#fff" stroke-opacity="0.85" stroke-width="1.1"/>
<circle cx="670.94" cy="626.4" r="9.5" fill="#130c08" fill-opacity="0.75" stroke="#fff" stroke-opacity="0.85" stroke-width="1.1"/>
<circle cx="670.94" cy="701.7" r="9.5" fill="#ffc77f" fill-opacity="0.75" stroke="#fff" stroke-opacity="0.85" stroke-width="1.1"/>
<circle cx="670.94" cy="712.8" r="9.5" fill="#ffc77f" fill-opacity="0.75" stroke="#fff" stroke-opacity="0.85" stroke-width="1.1"/>
<circle cx="711.78" cy="487" r="9.5" fill="#060403" fill-opacity="0.75" stroke="#fff" stroke-opacity="0.85" stroke-width="1.1"/>
<circle cx="711.78" cy="501.4" r="9.5" fill="#060403" fill-opacity="0.75" stroke="#fff" stroke-opacity="0.85" stroke-width="1.1"/>
<circle cx="711.78" cy="515.7" r="9.5" fill="#060403" fill-opacity="0.75" stroke="#fff" stroke-opacity="0.85" stroke-width="1.1"/>
<circle cx="711.78" cy="569.6" r="9.5" fill="#100a06" fill-opacity="0.75" stroke="#fff" stroke-opacity="0.85" stroke-width="1.1"/>
<circle cx="711.78" cy="598.8" r="9.5" fill="#0d0805" fill-opacity="0.75" stroke="#fff" stroke-opacity="0.85" stroke-width="1.1"/>
<circle cx="711.78" cy="712.8" r="9.5" fill="#ffc77f" fill-opacity="0.75" stroke="#fff" stroke-opacity="0.85" stroke-width="1.1"/>
<circle cx="752.62" cy="472.7" r="9.5" fill="#0a0604" fill-opacity="0.75" stroke="#fff" stroke-opacity="0.85" stroke-width="1.1"/>
<circle cx="752.62" cy="484.9" r="9.5" fill="#0a0604" fill-opacity="0.75" stroke="#fff" stroke-opacity="0.85" stroke-width="1.1"/>
<circle cx="752.62" cy="498" r="9.5" fill="#0a0604" fill-opacity="0.75" stroke="#fff" stroke-opacity="0.85" stroke-width="1.1"/>
<circle cx="752.62" cy="509" r="9.5" fill="#402819" fill-opacity="0.75" stroke="#fff" stroke-opacity="0.85" stroke-width="1.1"/>
<circle cx="752.62" cy="527.8" r="9.5" fill="#100a06" fill-opacity="0.75" stroke="#fff" stroke-opacity="0.85" stroke-width="1.1"/>
<circle cx="752.62" cy="711.5" r="9.5" fill="#ffc77f" fill-opacity="0.75" stroke="#fff" stroke-opacity="0.85" stroke-width="1.1"/>
<circle cx="752.62" cy="713.5" r="9.5" fill="#ffc77f" fill-opacity="0.75" stroke="#fff" stroke-opacity="0.85" stroke-width="1.1"/>
<circle cx="793.46" cy="440.8" r="9.5" fill="#301e13" fill-opacity="0.75" stroke="#fff" stroke-opacity="0.85" stroke-width="1.1"/>
<circle cx="793.46" cy="467.2" r="9.5" fill="#0d0805" fill-opacity="0.75" stroke="#fff" stroke-opacity="0.85" stroke-width="1.1"/>
<circle cx="793.46" cy="476" r="9.5" fill="#0d0805" fill-opacity="0.75" stroke="#fff" stroke-opacity="0.85" stroke-width="1.1"/>
<circle cx="793.46" cy="476.8" r="9.5" fill="#0d0805" fill-opacity="0.75" stroke="#fff" stroke-opacity="0.85" stroke-width="1.1"/>
<circle cx="793.46" cy="486" r="9.5" fill="#0d0805" fill-opacity="0.75" stroke="#fff" stroke-opacity="0.85" stroke-width="1.1"/>
<circle cx="793.46" cy="528.9" r="9.5" fill="#0d0805" fill-opacity="0.75" stroke="#fff" stroke-opacity="0.85" stroke-width="1.1"/>
<circle cx="793.46" cy="542.1" r="9.5" fill="#ffc77f" fill-opacity="0.75" stroke="#fff" stroke-opacity="0.85" stroke-width="1.1"/>
<circle cx="793.46" cy="594" r="9.5" fill="#0d0805" fill-opacity="0.75" stroke="#fff" stroke-opacity="0.85" stroke-width="1.1"/>
<circle cx="793.46" cy="711" r="9.5" fill="#ffc77f" fill-opacity="0.75" stroke="#fff" stroke-opacity="0.85" stroke-width="1.1"/>
<circle cx="793.46" cy="712.5" r="9.5" fill="#ffc77f" fill-opacity="0.75" stroke="#fff" stroke-opacity="0.85" stroke-width="1.1"/>
<circle cx="834.3" cy="457.3" r="9.5" fill="#0d0805" fill-opacity="0.75" stroke="#fff" stroke-opacity="0.85" stroke-width="1.1"/>
<circle cx="834.3" cy="467.2" r="9.5" fill="#0d0805" fill-opacity="0.75" stroke="#fff" stroke-opacity="0.85" stroke-width="1.1"/>
<circle cx="834.3" cy="482.6" r="9.5" fill="#0d0805" fill-opacity="0.75" stroke="#fff" stroke-opacity="0.85" stroke-width="1.1"/>
<circle cx="834.3" cy="488.2" r="9.5" fill="#0d0805" fill-opacity="0.75" stroke="#fff" stroke-opacity="0.85" stroke-width="1.1"/>
<circle cx="834.3" cy="517.9" r="9.5" fill="#1a100a" fill-opacity="0.75" stroke="#fff" stroke-opacity="0.85" stroke-width="1.1"/>
<circle cx="834.3" cy="518.8" r="9.5" fill="#1a100a" fill-opacity="0.75" stroke="#fff" stroke-opacity="0.85" stroke-width="1.1"/>
<circle cx="834.3" cy="547.6" r="9.5" fill="#0d0805" fill-opacity="0.75" stroke="#fff" stroke-opacity="0.85" stroke-width="1.1"/>
<circle cx="834.3" cy="711" r="9.5" fill="#ffc77f" fill-opacity="0.75" stroke="#fff" stroke-opacity="0.85" stroke-width="1.1"/>
</g>
<polyline clip-path="url(#cc)" fill="none" stroke="#b9fccc" stroke-width="10" stroke-linejoin="round" stroke-linecap="square" points="221.7,441 262.54,441.7 303.38,443.5 344.22,446.3 385.06,449.8 425.9,455 466.74,463.7 507.58,477.6 548.42,484.5 589.26,491.5 630.1,494.5 670.94,539.5 711.78,515.5 752.62,492.5 793.46,501 834.3,491.5"/>
<polyline clip-path="url(#cd)" fill="none" stroke="#b9fccc" stroke-width="10" stroke-linejoin="round" stroke-linecap="square" points="898.4,441 942.54,441.7 986.68,443.5 1030.82,446.3 1074.96,449.8 1119.1,455 1163.24,463.7 1207.38,477.6 1251.52,484.5 1295.66,491.5 1339.8,494.5 1383.94,539.5 1428.08,515.5 1472.22,492.5 1516.36,501 1560.5,491.5"/>
<g clip-path="url(#cd)" stroke="#b9fccc" fill="none">
<line x1="898.4" y1="438.5" x2="898.4" y2="443.5" stroke-width="5"/>
<line x1="888.2" y1="438.5" x2="908.6" y2="438.5" stroke-width="3.2"/>
<line x1="888.2" y1="443.5" x2="908.6" y2="443.5" stroke-width="3.2"/>
<line x1="942.54" y1="439" x2="942.54" y2="444.5" stroke-width="5"/>
<line x1="932.34" y1="439" x2="952.74" y2="439" stroke-width="3.2"/>
<line x1="932.34" y1="444.5" x2="952.74" y2="444.5" stroke-width="3.2"/>
<line x1="986.68" y1="440.5" x2="986.68" y2="446.5" stroke-width="5"/>
<line x1="976.48" y1="440.5" x2="996.88" y2="440.5" stroke-width="3.2"/>
<line x1="976.48" y1="446.5" x2="996.88" y2="446.5" stroke-width="3.2"/>
<line x1="1030.82" y1="443" x2="1030.82" y2="449.5" stroke-width="5"/>
<line x1="1020.62" y1="443" x2="1041.02" y2="443" stroke-width="3.2"/>
<line x1="1020.62" y1="449.5" x2="1041.02" y2="449.5" stroke-width="3.2"/>
<line x1="1074.96" y1="445.5" x2="1074.96" y2="454" stroke-width="5"/>
<line x1="1064.76" y1="445.5" x2="1085.16" y2="445.5" stroke-width="3.2"/>
<line x1="1064.76" y1="454" x2="1085.16" y2="454" stroke-width="3.2"/>
<line x1="1119.1" y1="449" x2="1119.1" y2="461" stroke-width="5"/>
<line x1="1108.9" y1="449" x2="1129.3" y2="449" stroke-width="3.2"/>
<line x1="1108.9" y1="461" x2="1129.3" y2="461" stroke-width="3.2"/>
<line x1="1163.24" y1="448.6" x2="1163.24" y2="481.7" stroke-width="5"/>
<line x1="1153.04" y1="448.6" x2="1173.44" y2="448.6" stroke-width="3.2"/>
<line x1="1153.04" y1="481.7" x2="1173.44" y2="481.7" stroke-width="3.2"/>
<line x1="1207.38" y1="456.7" x2="1207.38" y2="497.7" stroke-width="5"/>
<line x1="1197.18" y1="456.7" x2="1217.58" y2="456.7" stroke-width="3.2"/>
<line x1="1197.18" y1="497.7" x2="1217.58" y2="497.7" stroke-width="3.2"/>
<line x1="1251.52" y1="453.5" x2="1251.52" y2="513.5" stroke-width="5"/>
<line x1="1241.32" y1="453.5" x2="1261.72" y2="453.5" stroke-width="3.2"/>
<line x1="1241.32" y1="513.5" x2="1261.72" y2="513.5" stroke-width="3.2"/>
<line x1="1295.66" y1="474.1" x2="1295.66" y2="507.5" stroke-width="5"/>
<line x1="1285.46" y1="474.1" x2="1305.86" y2="474.1" stroke-width="3.2"/>
<line x1="1285.46" y1="507.5" x2="1305.86" y2="507.5" stroke-width="3.2"/>
<line x1="1339.8" y1="-30000" x2="1339.8" y2="30000" stroke-width="5"/>
<line x1="1329.6" y1="-30000" x2="1350" y2="-30000" stroke-width="3.2"/>
<line x1="1329.6" y1="30000" x2="1350" y2="30000" stroke-width="3.2"/>
<line x1="1383.94" y1="511.1" x2="1383.94" y2="571.6" stroke-width="5"/>
<line x1="1373.74" y1="511.1" x2="1394.14" y2="511.1" stroke-width="3.2"/>
<line x1="1373.74" y1="571.6" x2="1394.14" y2="571.6" stroke-width="3.2"/>
<line x1="1428.08" y1="477" x2="1428.08" y2="558.8" stroke-width="5"/>
<line x1="1417.88" y1="477" x2="1438.28" y2="477" stroke-width="3.2"/>
<line x1="1417.88" y1="558.8" x2="1438.28" y2="558.8" stroke-width="3.2"/>
<line x1="1472.22" y1="478" x2="1472.22" y2="506" stroke-width="5"/>
<line x1="1462.02" y1="478" x2="1482.42" y2="478" stroke-width="3.2"/>
<line x1="1462.02" y1="506" x2="1482.42" y2="506" stroke-width="3.2"/>
<line x1="1516.36" y1="466.6" x2="1516.36" y2="538.1" stroke-width="5"/>
<line x1="1506.16" y1="466.6" x2="1526.56" y2="466.6" stroke-width="3.2"/>
<line x1="1506.16" y1="538.1" x2="1526.56" y2="538.1" stroke-width="3.2"/>
<line x1="1560.5" y1="467.2" x2="1560.5" y2="514.5" stroke-width="5"/>
<line x1="1550.3" y1="467.2" x2="1570.7" y2="467.2" stroke-width="3.2"/>
<line x1="1550.3" y1="514.5" x2="1570.7" y2="514.5" stroke-width="3.2"/>
</g>
<rect x="213.9" y="11.6" width="661.6" height="327" fill="none" stroke="#000" stroke-width="2.6"/>
<rect x="898.5" y="11.6" width="661.8" height="327" fill="none" stroke="#000" stroke-width="2.6"/>
<rect x="213.9" y="414.5" width="661.6" height="326.1" fill="none" stroke="#000" stroke-width="2.6"/>
<rect x="898.5" y="414.5" width="661.8" height="326.1" fill="none" stroke="#000" stroke-width="2.6"/>
<line x1="202.4" y1="27.25" x2="213.9" y2="27.25" stroke="#000" stroke-width="2.6"/>
<line x1="202.4" y1="183" x2="213.9" y2="183" stroke="#000" stroke-width="2.6"/>
<line x1="202.4" y1="338.75" x2="213.9" y2="338.75" stroke="#000" stroke-width="2.6"/>
<line x1="887" y1="27.25" x2="898.5" y2="27.25" stroke="#000" stroke-width="2.6"/>
<line x1="887" y1="183" x2="898.5" y2="183" stroke="#000" stroke-width="2.6"/>
<line x1="887" y1="338.75" x2="898.5" y2="338.75" stroke="#000" stroke-width="2.6"/>
<line x1="202.4" y1="441.7" x2="213.9" y2="441.7" stroke="#000" stroke-width="2.6"/>
<line x1="202.4" y1="577.6" x2="213.9" y2="577.6" stroke="#000" stroke-width="2.6"/>
<line x1="202.4" y1="713.5" x2="213.9" y2="713.5" stroke="#000" stroke-width="2.6"/>
<line x1="887" y1="441.7" x2="898.5" y2="441.7" stroke="#000" stroke-width="2.6"/>
<line x1="887" y1="577.6" x2="898.5" y2="577.6" stroke="#000" stroke-width="2.6"/>
<line x1="887" y1="713.5" x2="898.5" y2="713.5" stroke="#000" stroke-width="2.6"/>
<line x1="244" y1="338.6" x2="244" y2="350.1" stroke="#000" stroke-width="2.6"/>
<line x1="444.35" y1="338.6" x2="444.35" y2="350.1" stroke="#000" stroke-width="2.6"/>
<line x1="644.7" y1="338.6" x2="644.7" y2="350.1" stroke="#000" stroke-width="2.6"/>
<line x1="845.05" y1="338.6" x2="845.05" y2="350.1" stroke="#000" stroke-width="2.6"/>
<line x1="898.4" y1="338.6" x2="898.4" y2="350.1" stroke="#000" stroke-width="2.6"/>
<line x1="1119.1" y1="338.6" x2="1119.1" y2="350.1" stroke="#000" stroke-width="2.6"/>
<line x1="1339.8" y1="338.6" x2="1339.8" y2="350.1" stroke="#000" stroke-width="2.6"/>
<line x1="1560.5" y1="338.6" x2="1560.5" y2="350.1" stroke="#000" stroke-width="2.6"/>
<line x1="221.7" y1="740.6" x2="221.7" y2="752.1" stroke="#000" stroke-width="2.6"/>
<line x1="425.9" y1="740.6" x2="425.9" y2="752.1" stroke="#000" stroke-width="2.6"/>
<line x1="630.1" y1="740.6" x2="630.1" y2="752.1" stroke="#000" stroke-width="2.6"/>
<line x1="834.3" y1="740.6" x2="834.3" y2="752.1" stroke="#000" stroke-width="2.6"/>
<line x1="898.4" y1="740.6" x2="898.4" y2="752.1" stroke="#000" stroke-width="2.6"/>
<line x1="1119.1" y1="740.6" x2="1119.1" y2="752.1" stroke="#000" stroke-width="2.6"/>
<line x1="1339.8" y1="740.6" x2="1339.8" y2="752.1" stroke="#000" stroke-width="2.6"/>
<line x1="1560.5" y1="740.6" x2="1560.5" y2="752.1" stroke="#000" stroke-width="2.6"/>
<rect x="1586.7" y="12.5" width="34.9" height="729.8" fill="url(#cbg)" stroke="#000" stroke-width="2.6"/>
<line x1="1621.6" y1="742.3" x2="1633.1" y2="742.3" stroke="#000" stroke-width="2.6"/>
<text x="1652.2" y="752.6" font-size="29.5" text-anchor="middle">0</text>
<line x1="1621.6" y1="625.79" x2="1633.1" y2="625.79" stroke="#000" stroke-width="2.6"/>
<text x="1652.2" y="636.09" font-size="29.5" text-anchor="middle">1</text>
<line x1="1621.6" y1="509.29" x2="1633.1" y2="509.29" stroke="#000" stroke-width="2.6"/>
<text x="1652.2" y="519.59" font-size="29.5" text-anchor="middle">2</text>
<line x1="1621.6" y1="392.78" x2="1633.1" y2="392.78" stroke="#000" stroke-width="2.6"/>
<text x="1652.2" y="403.08" font-size="29.5" text-anchor="middle">3</text>
<line x1="1621.6" y1="276.27" x2="1633.1" y2="276.27" stroke="#000" stroke-width="2.6"/>
<text x="1652.2" y="286.57" font-size="29.5" text-anchor="middle">4</text>
<line x1="1621.6" y1="159.76" x2="1633.1" y2="159.76" stroke="#000" stroke-width="2.6"/>
<text x="1652.2" y="170.06" font-size="29.5" text-anchor="middle">5</text>
<line x1="1621.6" y1="43.26" x2="1633.1" y2="43.26" stroke="#000" stroke-width="2.6"/>
<text x="1652.2" y="53.56" font-size="29.5" text-anchor="middle">6</text>
<text font-size="34" text-anchor="middle" transform="translate(1697,377) rotate(-90)" textLength="428" lengthAdjust="spacingAndGlyphs">Probability Density Function</text>
<text x="190.2" y="37.45" font-size="29.5" text-anchor="end">1.0</text>
<text x="190.2" y="193.2" font-size="29.5" text-anchor="end">0.0</text>
<text x="190.2" y="348.95" font-size="29.5" text-anchor="end">-1.0</text>
<text x="190.2" y="451.9" font-size="29.5" text-anchor="end">1.0</text>
<text x="190.2" y="587.8" font-size="29.5" text-anchor="end">0.5</text>
<text x="190.2" y="723.7" font-size="29.5" text-anchor="end">0.0</text>
<text x="244" y="386.4" font-size="35.5" text-anchor="middle">0</text>
<text x="444.35" y="374.4" font-size="24.5" text-anchor="middle" class="it">π</text>
<line x1="435.85" y1="378.5" x2="452.85" y2="378.5" stroke="#000" stroke-width="1.5"/>
<text x="444.35" y="398.1" font-size="24.5" text-anchor="middle">4</text>
<text x="644.7" y="374.4" font-size="24.5" text-anchor="middle" class="it">π</text>
<line x1="636.2" y1="378.5" x2="653.2" y2="378.5" stroke="#000" stroke-width="1.5"/>
<text x="644.7" y="398.1" font-size="24.5" text-anchor="middle">2</text>
<text x="829.85" y="378.8" font-size="24.5" textLength="29.5" lengthAdjust="spacingAndGlyphs">3<tspan class="it">π</tspan></text>
<line x1="829.55" y1="383.5" x2="860.55" y2="383.5" stroke="#000" stroke-width="1.5"/>
<text x="845.05" y="403.1" font-size="24.5" text-anchor="middle">4</text>
<text x="221.7" y="788.6" font-size="35.5" text-anchor="middle">0</text>
<text x="425.9" y="776.6" font-size="24.5" text-anchor="middle" class="it">π</text>
<line x1="417.4" y1="780.7" x2="434.4" y2="780.7" stroke="#000" stroke-width="1.5"/>
<text x="425.9" y="800.3" font-size="24.5" text-anchor="middle">4</text>
<text x="630.1" y="776.6" font-size="24.5" text-anchor="middle" class="it">π</text>
<line x1="621.6" y1="780.7" x2="638.6" y2="780.7" stroke="#000" stroke-width="1.5"/>
<text x="630.1" y="800.3" font-size="24.5" text-anchor="middle">2</text>
<text x="819.1" y="781" font-size="24.5" textLength="29.5" lengthAdjust="spacingAndGlyphs">3<tspan class="it">π</tspan></text>
<line x1="818.8" y1="785.7" x2="849.8" y2="785.7" stroke="#000" stroke-width="1.5"/>
<text x="834.3" y="805.3" font-size="24.5" text-anchor="middle">4</text>
<text x="898.4" y="788.6" font-size="35.5" text-anchor="middle">0</text>
<text x="1119.1" y="776.6" font-size="24.5" text-anchor="middle" class="it">π</text>
<line x1="1110.6" y1="780.7" x2="1127.6" y2="780.7" stroke="#000" stroke-width="1.5"/>
<text x="1119.1" y="800.3" font-size="24.5" text-anchor="middle">4</text>
<text x="1339.8" y="776.6" font-size="24.5" text-anchor="middle" class="it">π</text>
<line x1="1331.3" y1="780.7" x2="1348.3" y2="780.7" stroke="#000" stroke-width="1.5"/>
<text x="1339.8" y="800.3" font-size="24.5" text-anchor="middle">2</text>
<text x="1545.3" y="781" font-size="24.5" textLength="29.5" lengthAdjust="spacingAndGlyphs">3<tspan class="it">π</tspan></text>
<line x1="1545" y1="785.7" x2="1576" y2="785.7" stroke="#000" stroke-width="1.5"/>
<text x="1560.5" y="805.3" font-size="24.5" text-anchor="middle">4</text>
<text x="511.6" y="841" font-size="35" class="it">θ</text>
<text x="527.4" y="846.3" font-size="25" textLength="51" lengthAdjust="spacingAndGlyphs">gate</text>
<text x="1196.2" y="841" font-size="35" class="it">θ</text>
<text x="1212" y="846.3" font-size="25" textLength="51" lengthAdjust="spacingAndGlyphs">gate</text>
<line x1="12.2" y1="188" x2="120.8" y2="188" stroke="#000" stroke-width="1.6"/>
<text x="66.5" y="180.7" font-size="25.5" text-anchor="middle" textLength="105" lengthAdjust="spacingAndGlyphs"><tspan class="it">δω</tspan>(<tspan class="it">θ</tspan><tspan font-size="16.5" dy="1.8">gate</tspan><tspan dy="-1.8">)</tspan></text>
<text x="66.5" y="208.5" font-size="25.5" text-anchor="middle" textLength="61.6" lengthAdjust="spacingAndGlyphs"><tspan class="it">δω</tspan>(0)</text>
<line x1="16.15" y1="590.6" x2="134.85" y2="590.6" stroke="#000" stroke-width="1.6"/>
<text x="75.5" y="583.3" font-size="25.5" text-anchor="middle" textLength="115" lengthAdjust="spacingAndGlyphs"><tspan class="it">ν</tspan><tspan class="it" font-size="17" dy="3.5">zx</tspan><tspan dy="-3.5">(</tspan><tspan class="it">θ</tspan><tspan font-size="16.5" dy="1.8">gate</tspan><tspan dy="-1.8">)</tspan></text>
<text x="75.5" y="611.1" font-size="25.5" text-anchor="middle" textLength="71" lengthAdjust="spacingAndGlyphs"><tspan class="it">ν</tspan><tspan class="it" font-size="17" dy="3.5">zx</tspan><tspan dy="-3.5">(0)</tspan></text>
<text x="231.6" y="172" font-size="38" textLength="41.6" lengthAdjust="spacingAndGlyphs">(a)</text>
<text x="914.7" y="173" font-size="38" textLength="46.4" lengthAdjust="spacingAndGlyphs">(b)</text>
<text x="400.9" y="576" font-size="38" textLength="40.1" lengthAdjust="spacingAndGlyphs">(c)</text>
<text x="915.4" y="576" font-size="38" textLength="45.8" lengthAdjust="spacingAndGlyphs">(d)</text>
<rect x="220.1" y="485.3" width="165.3" height="234.5" rx="7" ry="7" fill="#fff" fill-opacity="0.8" stroke="#cccccc" stroke-width="2.6"/>
<text x="315.5" y="516" font-size="27" text-anchor="middle" class="it">σ</text>
<circle cx="258.2" cy="545.9" r="12" fill="#402819"/>
<text x="306.5" y="558.4" font-size="36">&lt;</text>
<text x="336.5" y="553.9" font-size="29">0.2</text>
<circle cx="258.2" cy="583.7" r="12" fill="#805033"/>
<text x="307.3" y="591.7" font-size="29">0.4</text>
<circle cx="258.2" cy="621.5" r="12" fill="#bf784c"/>
<text x="307.3" y="629.5" font-size="29">0.6</text>
<circle cx="258.2" cy="659.3" r="12" fill="#ff9f65"/>
<text x="307.3" y="667.3" font-size="29">0.8</text>
<circle cx="258.2" cy="697.1" r="12" fill="#ffc77f"/>
<text x="306.5" y="709.6" font-size="36">&gt;</text>
<text x="336.5" y="705.1" font-size="29">1</text>
</svg></div>
<script>
var VMAX=6.264;

function cop(x){x=Math.max(0,Math.min(1,x));return [Math.min(1,1.25*x)*255,0.7812*x*255,0.4975*x*255];}
function draw(id, prof, x0, colw, top){
  var cv=document.getElementById(id), ctx=cv.getContext('2d');
  var w=cv.width, h=cv.height, img=ctx.createImageData(w,h), d=img.data;
  var n=prof.length, cols=[];
  for(var k=0;k<n;k++){ var a=new Float32Array(h); var comps=prof[k];
    for(var y=0;y<h;y++){ var yy=top+y+0.5, s=0;
      for(var j=0;j<comps.length;j++){ var c=comps[j], t=(yy-c[0])/c[1]; s+=c[2]*Math.exp(-0.5*t*t);} a[y]=s; }
    cols.push(a);}
  for(var x=0;x<w;x++){ var xx=x+0.5, t=xx/colw-0.5, k0=Math.floor(t), f=t-k0, k1=k0+1;
    if(k0<0){k0=0;k1=0;f=0;} if(k1>n-1){k1=n-1; if(k0>n-1)k0=n-1;}
    var A0=cols[k0], A1=cols[k1];
    for(var y=0;y<h;y++){ var v=(1-f)*A0[y]+f*A1[y]; var c=cop(1-v/VMAX); var i=(y*w+x)*4;
      d[i]=c[0];d[i+1]=c[1];d[i+2]=c[2];d[i+3]=255; } }
  ctx.putImageData(img,0,0);
}

var PB=[[[27, 12, 4.2], [45, 22, 0.8]], [[27, 12, 4.3], [46, 22, 0.8]], [[28, 10, 5.2], [50, 20, 1.1]], [[31, 10, 5.2], [54, 20, 1.1]], [[37, 10, 4.6], [20, 10, 1.2], [60, 18, 0.6]], [[45, 8, 4.0], [68, 14, 1.5], [90, 35, 0.35]], [[58, 8, 3.8], [83, 14, 1.5], [105, 35, 0.35]], [[70, 9, 3.5], [97, 14, 1.45], [118, 35, 0.35]], [[82, 10, 3.0], [112, 15, 1.4], [132, 35, 0.35]], [[95, 12, 2.2], [124, 16, 1.3], [145, 35, 0.35]], [[150, 40, 0.4]], [[183, 12, 1.7], [150, 30, 0.5], [240, 35, 0.28]], [[170, 25, 1.1], [205, 12, 0.9], [245, 35, 0.3]], [[212, 12, 1.6], [160, 30, 0.6]], [[225, 15, 1.2], [260, 25, 0.9], [150, 30, 0.5], [300, 30, 0.45]], [[265, 25, 1.3], [210, 25, 0.8], [150, 30, 0.45], [312, 30, 0.45]]]; var PD=[[[440, 15, 4.0], [465, 20, 1.5], [418, 8, 1.2], [490, 60, 0.3]], [[440, 15, 4.6], [465, 20, 1.5], [418, 8, 1.2], [490, 60, 0.3]], [[441, 15, 4.2], [466, 20, 1.5], [418, 8, 1.1], [490, 60, 0.3]], [[443, 15, 4.2], [468, 20, 1.5], [418, 8, 1.0], [490, 60, 0.3]], [[446, 14, 4.4], [472, 20, 1.4], [418, 8, 0.9], [495, 60, 0.3]], [[449, 14, 4.3], [478, 20, 1.3], [418, 8, 0.7], [500, 60, 0.3]], [[456, 13, 4.0], [490, 20, 1.2], [418, 8, 0.4], [510, 60, 0.3]], [[463, 13, 3.6], [505, 18, 1.2], [520, 60, 0.3]], [[468, 13, 2.8], [520, 20, 0.5], [545, 25, 0.35], [520, 60, 0.25]], [[475, 14, 1.8], [540, 30, 0.5], [520, 60, 0.25]], [[600, 80, 0.2], [520, 50, 0.2]], [[547, 14, 1.9], [500, 30, 0.4], [597, 14, 0.45], [630, 14, 0.4], [600, 50, 0.2]], [[490, 13, 2.8], [520, 30, 0.6], [598, 14, 0.42]], [[486, 12, 3.2], [520, 30, 0.7]], [[486, 13, 3.2], [530, 25, 1.0], [455, 25, 0.5], [595, 14, 0.45]], [[483, 12, 3.4], [525, 25, 1.0], [455, 25, 0.5]]];
draw("hb",PB,0,41.36,11.6); draw("hd",PD,0,41.36,414.5);
</script></body></html>
